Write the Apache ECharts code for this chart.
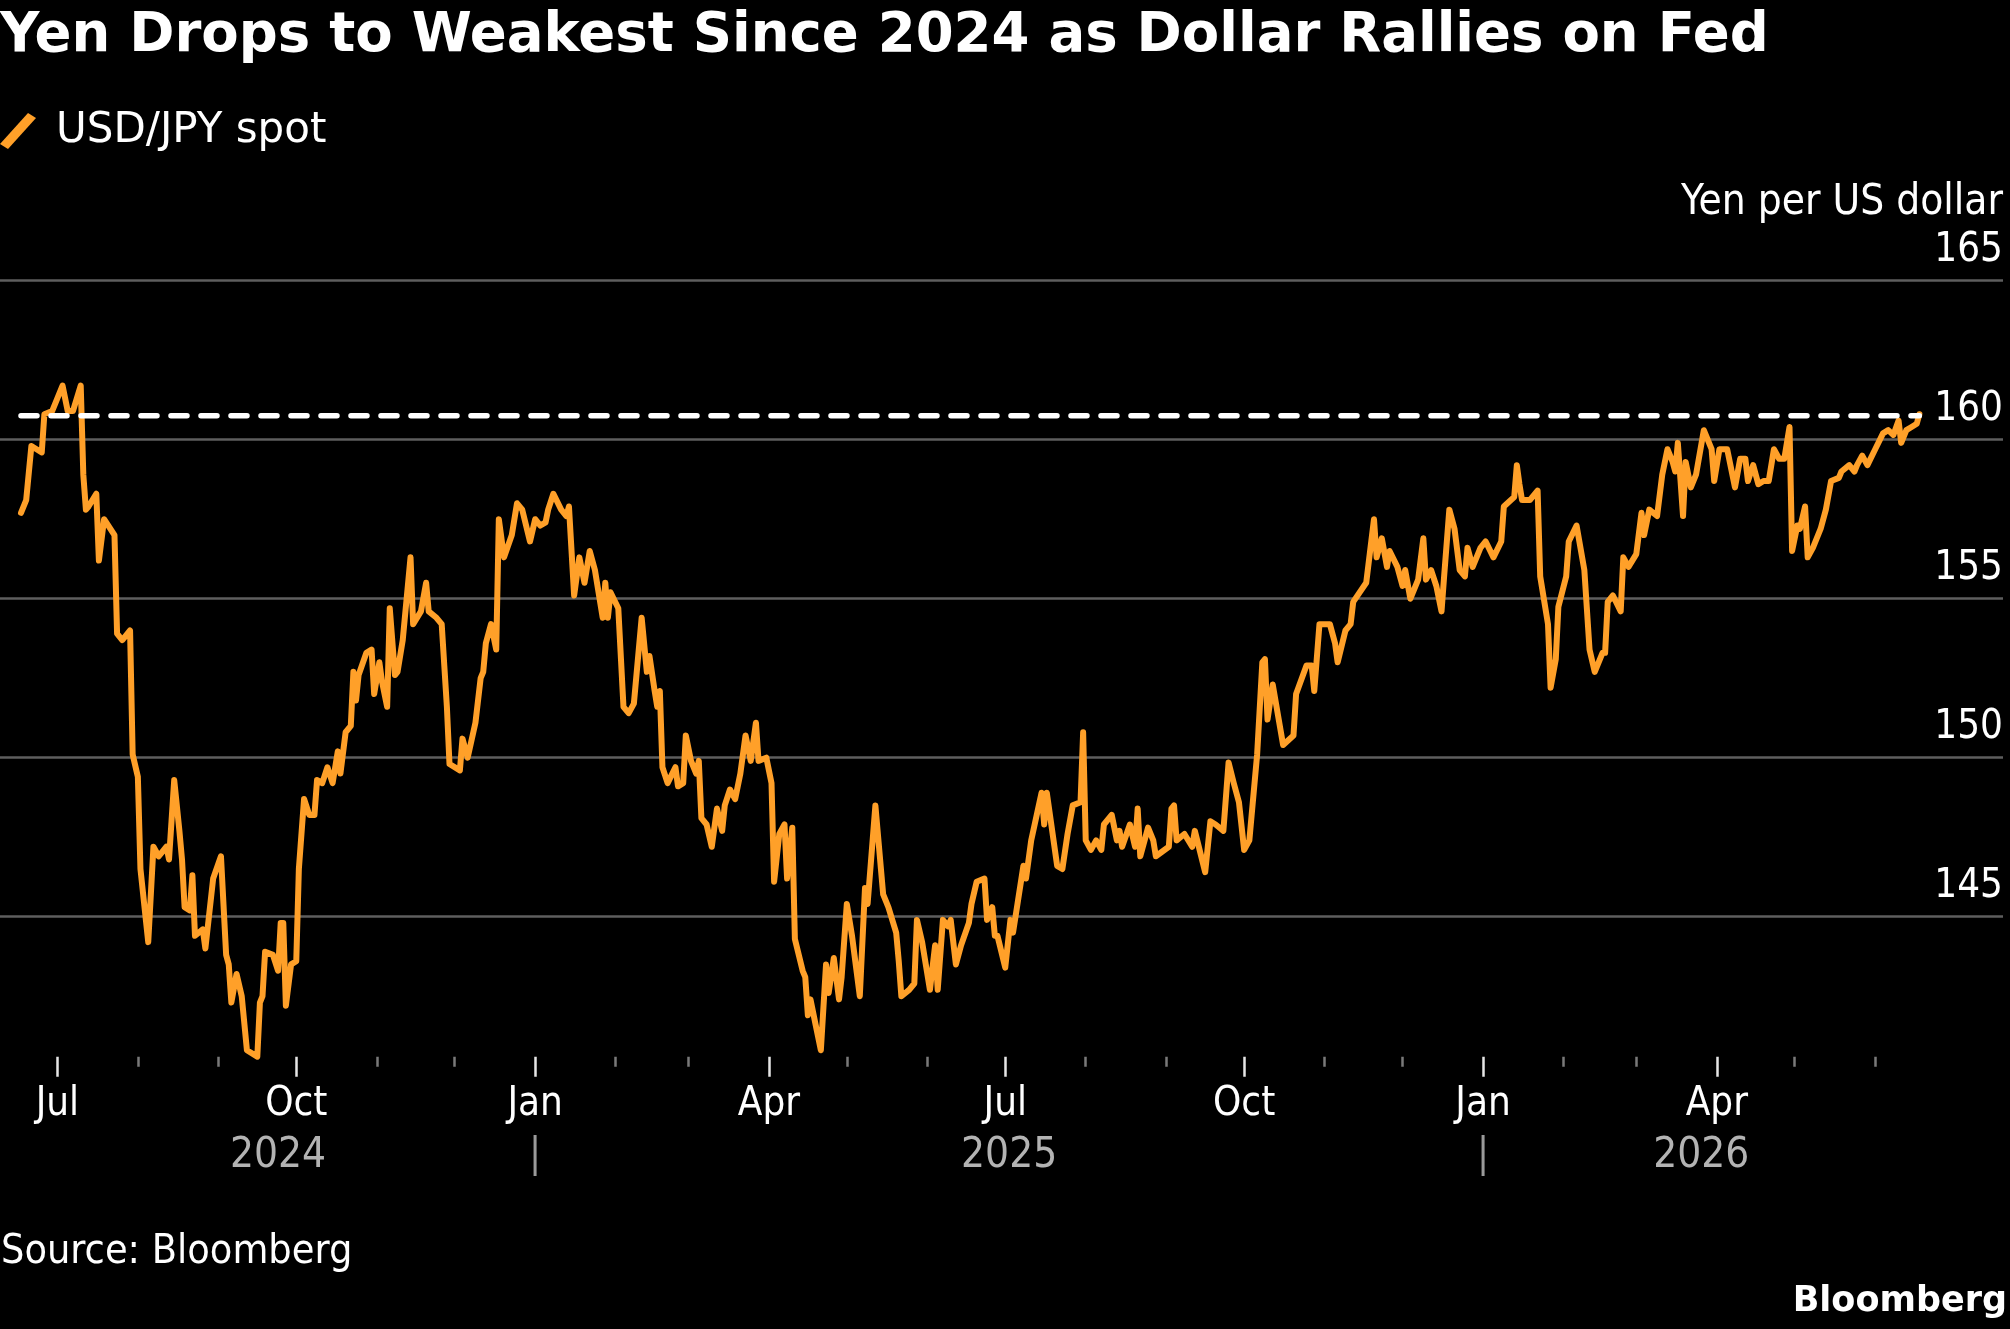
<!DOCTYPE html>
<html>
<head>
<meta charset="utf-8">
<script src="https://cdn.jsdelivr.net/npm/echarts@6/dist/echarts.min.js"></script>
<style>
  html, body { margin: 0; padding: 0; background: #000; }
  #chart { width: 2010px; height: 1329px; }
</style>
</head>
<body>
<div id="chart"></div>
<script>
// USD/JPY spot
const dates = [
  '2024-06-17','2024-06-19','2024-06-21','2024-06-23','2024-06-25','2024-06-26','2024-06-29','2024-07-01',
  '2024-07-03','2024-07-05','2024-07-07','2024-07-10','2024-07-11','2024-07-12','2024-07-13','2024-07-16',
  '2024-07-17','2024-07-19','2024-07-23','2024-07-24','2024-07-26','2024-07-29','2024-07-30','2024-08-01',
  '2024-08-02','2024-08-05','2024-08-07','2024-08-09','2024-08-12','2024-08-13','2024-08-15','2024-08-17',
  '2024-08-18','2024-08-19','2024-08-21','2024-08-22','2024-08-23','2024-08-26','2024-08-27','2024-08-30',
  '2024-09-02','2024-09-04','2024-09-05','2024-09-06','2024-09-08','2024-09-10','2024-09-12','2024-09-16',
  '2024-09-17','2024-09-18','2024-09-19','2024-09-22','2024-09-24','2024-09-25','2024-09-26','2024-09-27',
  '2024-09-29','2024-10-01','2024-10-02','2024-10-04','2024-10-06','2024-10-08','2024-10-09','2024-10-11',
  '2024-10-13','2024-10-15','2024-10-17','2024-10-18','2024-10-20','2024-10-22','2024-10-23','2024-10-24',
  '2024-10-25','2024-10-28','2024-10-30','2024-10-31','2024-11-02','2024-11-03','2024-11-05','2024-11-06',
  '2024-11-08','2024-11-09','2024-11-11','2024-11-14','2024-11-15','2024-11-18','2024-11-20','2024-11-21',
  '2024-11-24','2024-11-26','2024-11-28','2024-11-29','2024-12-03','2024-12-04','2024-12-06','2024-12-09',
  '2024-12-11','2024-12-12','2024-12-13','2024-12-15','2024-12-17','2024-12-18','2024-12-20','2024-12-23',
  '2024-12-25','2024-12-27','2024-12-30',
  '2025-01-01','2025-01-03','2025-01-05','2025-01-06','2025-01-08','2025-01-11','2025-01-13','2025-01-14',
  '2025-01-16','2025-01-18','2025-01-20','2025-01-22','2025-01-24','2025-01-27','2025-01-28','2025-01-29',
  '2025-01-30','2025-02-02','2025-02-04','2025-02-06','2025-02-08','2025-02-11','2025-02-13','2025-02-14',
  '2025-02-16','2025-02-17','2025-02-18','2025-02-19','2025-02-21','2025-02-24','2025-02-25','2025-02-27',
  '2025-02-28','2025-03-02','2025-03-04','2025-03-05','2025-03-06','2025-03-08','2025-03-10','2025-03-12',
  '2025-03-14','2025-03-15','2025-03-17','2025-03-19','2025-03-21','2025-03-23','2025-03-25','2025-03-27',
  '2025-03-28','2025-03-31','2025-04-02','2025-04-03','2025-04-05','2025-04-07','2025-04-08','2025-04-10',
  '2025-04-11','2025-04-14','2025-04-15','2025-04-16','2025-04-17','2025-04-19','2025-04-21','2025-04-23',
  '2025-04-24','2025-04-26','2025-04-28','2025-04-29','2025-05-01','2025-05-03','2025-05-06','2025-05-08',
  '2025-05-09','2025-05-12','2025-05-15','2025-05-17','2025-05-20','2025-05-21','2025-05-22','2025-05-25',
  '2025-05-27','2025-05-28','2025-05-30','2025-06-02','2025-06-04','2025-06-05','2025-06-07','2025-06-09',
  '2025-06-10','2025-06-12','2025-06-14','2025-06-17','2025-06-18','2025-06-20','2025-06-23','2025-06-24',
  '2025-06-26','2025-06-27','2025-06-28','2025-07-01','2025-07-03','2025-07-04','2025-07-08','2025-07-09',
  '2025-07-11','2025-07-15','2025-07-16','2025-07-17','2025-07-21','2025-07-23','2025-07-25','2025-07-27',
  '2025-07-30','2025-07-31','2025-08-01','2025-08-03','2025-08-05','2025-08-07','2025-08-08','2025-08-11',
  '2025-08-13','2025-08-14','2025-08-15','2025-08-18','2025-08-20','2025-08-21','2025-08-22','2025-08-25',
  '2025-08-27','2025-08-28','2025-09-02','2025-09-03','2025-09-04','2025-09-05','2025-09-08','2025-09-11',
  '2025-09-12','2025-09-16','2025-09-18','2025-09-20','2025-09-23','2025-09-25','2025-09-27','2025-09-29',
  '2025-10-01','2025-10-03','2025-10-06','2025-10-08','2025-10-09','2025-10-10','2025-10-12','2025-10-16',
  '2025-10-20','2025-10-21','2025-10-25','2025-10-27','2025-10-28','2025-10-30','2025-11-03','2025-11-05',
  '2025-11-06','2025-11-09','2025-11-11','2025-11-12','2025-11-17','2025-11-20','2025-11-21','2025-11-23',
  '2025-11-25','2025-11-26','2025-11-29','2025-12-01','2025-12-02','2025-12-04','2025-12-07','2025-12-09',
  '2025-12-10','2025-12-12','2025-12-14','2025-12-16','2025-12-17','2025-12-19','2025-12-21','2025-12-23',
  '2025-12-25','2025-12-26','2025-12-28','2025-12-31',
  '2026-01-02','2026-01-05','2026-01-08','2026-01-09','2026-01-13','2026-01-14','2026-01-15','2026-01-16',
  '2026-01-19','2026-01-22','2026-01-23','2026-01-26','2026-01-27','2026-01-29','2026-01-30','2026-02-02',
  '2026-02-03','2026-02-06','2026-02-09','2026-02-11','2026-02-13','2026-02-16','2026-02-17','2026-02-18',
  '2026-02-20','2026-02-23','2026-02-24','2026-02-26','2026-03-01','2026-03-03','2026-03-04','2026-03-06',
  '2026-03-09','2026-03-11','2026-03-13','2026-03-15','2026-03-16','2026-03-17','2026-03-19','2026-03-20',
  '2026-03-22','2026-03-24','2026-03-27','2026-03-30','2026-03-31','2026-04-02','2026-04-05','2026-04-08',
  '2026-04-10','2026-04-12','2026-04-13','2026-04-15','2026-04-17','2026-04-19','2026-04-21','2026-04-23',
  '2026-04-25','2026-04-27','2026-04-29','2026-04-30','2026-05-02','2026-05-03','2026-05-05','2026-05-06',
  '2026-05-08','2026-05-11','2026-05-13','2026-05-15','2026-05-18','2026-05-19','2026-05-22','2026-05-24',
  '2026-05-25','2026-05-27','2026-05-29','2026-06-01','2026-06-04','2026-06-06','2026-06-08','2026-06-10',
  '2026-06-11','2026-06-13','2026-06-15','2026-06-17','2026-06-18'
];

const spot = [
  157.7,158.1,159.8,159.7,159.6,160.8,160.9,161.3,
  161.7,160.9,160.9,161.7,158.9,157.8,157.9,158.3,
  156.2,157.5,157.0,153.9,153.7,154.0,150.1,149.4,
  146.5,144.2,147.2,146.9,147.2,146.8,149.3,147.7,
  146.8,145.3,145.2,146.3,144.4,144.6,144.0,146.2,
  146.9,143.8,143.5,142.3,143.2,142.5,140.8,140.6,
  142.3,142.5,143.9,143.8,143.3,144.8,144.8,142.2,
  143.5,143.6,146.5,148.7,148.2,148.2,149.3,149.2,
  149.7,149.2,150.2,149.5,150.8,151.0,152.7,151.8,
  152.6,153.3,153.4,152.0,153.0,152.4,151.6,154.7,
  152.6,152.7,153.7,156.3,154.2,154.6,155.5,154.6,
  154.4,154.2,151.6,149.8,149.6,150.6,150.0,151.1,
  152.5,152.7,153.6,154.2,153.4,157.5,156.3,157.0,
  158.0,157.8,156.8,
  157.5,157.3,157.4,157.8,158.3,157.8,157.6,157.9,
  155.1,156.3,155.5,156.5,155.9,154.4,155.5,154.4,
  155.2,154.7,151.6,151.4,151.7,154.4,152.7,153.2,
  152.1,151.6,152.1,149.7,149.2,149.7,149.1,149.2,
  150.7,149.9,149.5,149.9,148.1,147.9,147.2,148.4,
  147.7,148.5,149.0,148.7,149.5,150.7,149.9,151.1,
  149.9,150.0,149.2,146.1,147.6,147.9,146.2,147.8,
  144.3,143.3,143.1,141.9,142.4,141.6,140.8,143.5,
  142.6,143.7,142.4,143.1,145.4,144.4,142.5,145.9,
  145.4,148.5,145.7,145.3,144.5,143.6,142.5,142.7,
  142.9,144.9,144.2,142.7,144.1,142.7,144.9,144.7,
  144.9,143.5,144.1,144.8,145.4,146.1,146.2,144.9,
  145.3,144.4,144.4,143.4,144.9,144.5,146.6,146.2,
  147.4,148.9,147.9,148.9,146.6,146.5,147.6,148.5,
  148.6,150.8,147.4,147.1,147.4,147.1,147.9,148.2,
  147.4,147.7,147.2,147.9,147.2,148.4,146.9,147.8,
  147.4,146.9,147.2,148.4,148.5,147.4,147.6,147.2,
  147.7,146.4,148.0,147.9,147.7,149.85,149.2,148.6,
  147.1,147.4,150.1,153.0,153.1,151.2,152.3,150.4,
  150.7,152.0,152.9,152.9,152.1,154.2,154.2,153.6,
  153.0,154.0,154.2,154.9,155.5,157.5,156.3,156.9,
  156.0,156.5,156.0,155.4,155.9,155.0,155.6,156.9,
  155.6,155.9,155.4,154.6,155.7,157.8,157.2,155.9,
  155.7,156.6,156.0,156.6,
  156.8,156.3,156.8,157.9,158.2,159.2,158.6,158.1,
  158.1,158.4,155.7,154.2,152.2,153.1,154.75,155.7,
  156.8,157.3,155.9,153.4,152.7,153.3,153.3,154.9,
  155.1,154.6,156.3,156.0,156.4,157.7,157.0,157.8,
  157.6,158.9,159.7,159.3,159.0,159.9,157.6,159.3,
  158.5,158.9,160.3,159.7,158.7,159.7,159.7,158.5,
  159.4,159.4,158.7,159.2,158.6,158.7,158.7,159.7,
  159.4,159.4,160.4,156.5,157.3,157.2,157.9,156.3,
  156.6,157.2,157.8,158.7,158.8,159.0,159.2,159.0,
  159.2,159.5,159.2,159.7,160.2,160.3,160.15,160.6,
  159.9,160.3,160.4,160.5,160.8
];

const refLevel = 160.75; // dashed line: latest level
const seriesName = 'USD/JPY spot';
const monthNames = ['Jan','Feb','Mar','Apr','May','Jun','Jul','Aug','Sep','Oct','Nov','Dec'];
const majorTicks = ['2024-07-01','2024-10-01','2025-01-01','2025-04-01','2025-07-01','2025-10-01','2026-01-01','2026-04-01'];
const minorTicks = ['2024-08-01','2024-09-01','2024-11-01','2024-12-01','2025-02-01','2025-03-01','2025-05-01','2025-06-01',
  '2025-08-01','2025-09-01','2025-11-01','2025-12-01','2026-02-01','2026-03-01','2026-05-01','2026-06-01'];
const yearBreaks = ['2025-01-01','2026-01-01'];
const yearLabels = ['2024','2025','2026'];
const yTicks = [145, 150, 155, 160, 165];

const FONT = "'DejaVu Sans Condensed', 'DejaVu Sans', sans-serif";

function ts(s) {
  const [d, t] = s.split(' ');
  const [y, m, day] = d.split('-').map(Number);
  const h = t ? Number(t.split(':')[0]) : 0;
  return new Date(y, m - 1, day, h).getTime();
}

const xMin = ts('2024-06-08 22:00');
const xMax = ts('2026-07-20 05:00');

// year row: label centred on each year's stretch of data, '|' at year breaks
const bounds = [ts(dates[0])].concat(yearBreaks.map(ts), [ts(dates[dates.length - 1])]);
const yearRow = new Map();
yearLabels.forEach((y, i) => yearRow.set((bounds[i] + bounds[i + 1]) / 2, '{yr|' + y + '}'));
yearBreaks.forEach(b => yearRow.set(ts(b), '{bar||}'));

const lineData = dates.map((d, i) => [ts(d), spot[i]]);
const refData = [[ts(dates[0]), refLevel], [ts(dates[dates.length - 1]), refLevel]];

const chart = echarts.init(document.getElementById('chart'), null, { renderer: 'canvas' });

// dates are plotted as timestamps on a plain value axis, so custom ticks work
const baseX = {
  type: 'value',
  min: xMin,
  max: xMax,
  gridIndex: 0,
  position: 'bottom',
  offset: -19,
  axisLine: { show: false },
  splitLine: { show: false },
  axisPointer: { show: false }
};

chart.setOption({
  backgroundColor: '#000',
  animation: false,
  title: {
    text: 'Yen Drops to Weakest Since 2024 as Dollar Rallies on Fed',
    left: 0,
    top: 10,
    padding: 0,
    textStyle: { color: '#fff', fontSize: 54.5, fontWeight: 'bold', fontFamily: 'DejaVu Sans', lineHeight: 54 }
  },
  legend: {
    data: [seriesName],
    left: 0,
    top: 110,
    padding: 0,
    itemWidth: 36,
    itemHeight: 36,
    icon: 'path://M28,0 L36,5 L8,36 L0,31 Z',
    textStyle: { color: '#fff', fontSize: 42, fontFamily: 'DejaVu Sans', lineHeight: 40, padding: [0, 0, 0, 15] }
  },
  grid: { left: 0, right: 7, top: 280.7, bottom: 253.3, outerBoundsMode: 'none' },
  xAxis: [
    Object.assign({}, baseX, {
      axisTick: {
        show: true, length: 20, customValues: majorTicks.map(ts),
        lineStyle: { color: '#e6e6e6', width: 2.5 }
      },
      axisLabel: {
        show: true, customValues: majorTicks.map(ts), margin: 28,
        color: '#fff', fontSize: 40, lineHeight: 40, fontFamily: FONT,
        formatter: v => monthNames[new Date(v).getMonth()]
      }
    }),
    Object.assign({}, baseX, {
      axisTick: {
        show: true, length: 10, customValues: minorTicks.map(ts),
        lineStyle: { color: '#7a7a7a', width: 2.5 }
      },
      axisLabel: { show: false }
    }),
    Object.assign({}, baseX, {
      axisTick: { show: false },
      axisLabel: {
        show: true, customValues: Array.from(yearRow.keys()), margin: 79,
        fontSize: 42, lineHeight: 40, fontFamily: FONT,
        formatter: v => yearRow.get(v) || '',
        rich: {
          yr: { color: '#b3b3b3', fontSize: 42, lineHeight: 40, fontFamily: FONT },
          bar: { color: '#9a9a9a', fontSize: 40, lineHeight: 40, fontFamily: FONT }
        }
      }
    })
  ],
  yAxis: {
    type: 'value',
    position: 'right',
    min: 140,
    max: 165,
    interval: 5,
    axisLine: { show: false },
    axisTick: { show: false },
    splitLine: { show: true, showMinLine: false, lineStyle: { color: '#5e5e5e', width: 2.5 } },
    axisLabel: {
      inside: true,
      margin: 0,
      align: 'right',
      verticalAlign: 'bottom',
      padding: [0, 0, 10, 0],
      color: '#fff',
      fontSize: 40,
      lineHeight: 40,
      fontFamily: FONT,
      formatter: v => (yTicks.indexOf(v) >= 0 ? String(v) : '')
    }
  },
  graphic: [
    {
      type: 'text', right: 7, top: 182,
      style: { text: 'Yen per US dollar', fill: '#fff', font: '42px ' + FONT }
    },
    {
      type: 'text', left: 1, top: 1232,
      style: { text: 'Source: Bloomberg', fill: '#fff', font: '41px ' + FONT }
    },
    {
      type: 'text', right: 3, top: 1284,
      style: { text: 'Bloomberg', fill: '#fff', font: 'bold 35px DejaVu Sans' }
    }
  ],
  series: [
    {
      name: seriesName,
      type: 'line',
      xAxisIndex: 0,
      data: lineData,
      showSymbol: false,
      symbol: 'none',
      color: '#ffa029',
      lineStyle: { color: '#ffa029', width: 6, join: 'round', cap: 'round' },
      z: 3
    },
    {
      name: 'ref',
      type: 'line',
      xAxisIndex: 0,
      data: refData,
      showSymbol: false,
      symbol: 'none',
      silent: true,
      lineStyle: { color: '#fff', width: 5.5, type: [16, 14], cap: 'round' },
      z: 4
    }
  ]
});
</script>
</body>
</html>
